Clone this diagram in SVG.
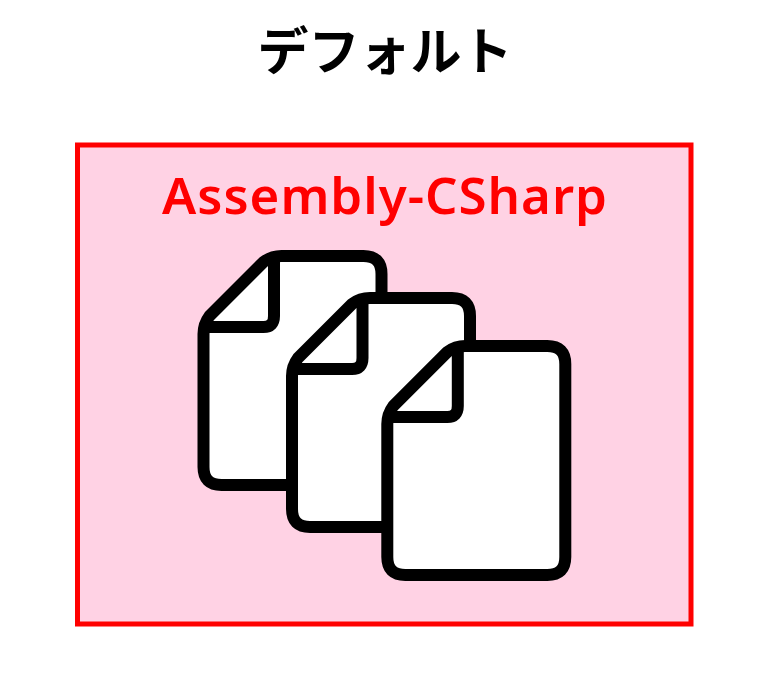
<svg xmlns="http://www.w3.org/2000/svg" width="768" height="683" viewBox="0 0 768 683">
<defs><style>
.doc{fill:#fff;stroke:#000;stroke-width:12;stroke-linejoin:round}
.fold{fill:none;stroke:#000;stroke-width:12}
.title{font-family:'Noto Sans CJK JP',sans-serif;font-weight:700;font-size:51px;fill:#000;text-anchor:middle}
.name{font-family:'Noto Sans',sans-serif;font-weight:600;font-size:51px;fill:#f00;text-anchor:middle}
</style>
<g id="sheet"><path class="doc" d="M0 78Q0 68 6 60L60 6Q68 0 78 0H160Q178 0 178 18V211Q178 229 160 229H18Q0 229 0 211Z"/><path class="fold" d="M70.5 2V60Q70.5 71 60 71H2"/></g>
</defs>
<rect width="768" height="683" fill="#fff"/>
<text class="title" x="385" y="70">デフォルト</text>
<g id="box"><rect x="77.5" y="145" width="613.5" height="479" fill="#ffd2e4" stroke="#f00" stroke-width="5"/>
<text class="name" x="384.5" y="214" textLength="445" lengthAdjust="spacing">Assembly-CSharp</text></g>
<g id="file1"><use href="#sheet" x="203.5" y="256"/></g>
<g id="file2"><use href="#sheet" x="292" y="298"/></g>
<g id="file3"><use href="#sheet" x="387.3" y="346"/></g>
</svg>
